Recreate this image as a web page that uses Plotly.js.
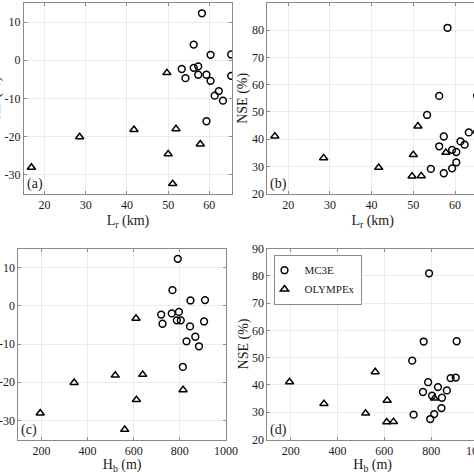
<!DOCTYPE html>
<html>
<head>
<meta charset="utf-8">
<script src="https://cdn.plot.ly/plotly-3.0.1.min.js"></script>
<style>
html,body{margin:0;padding:0;background:#fff;overflow:hidden;width:474px;height:474px;}
#chart{position:absolute;left:-16px;top:0;width:510px;height:474px;}
</style>
</head>
<body>
<div id="chart"></div>
<script>
// MC3E (circles)
const mc3eLr  = [58.2, 56.2, 60.3, 65.3, 65.3, 53.3, 54.2, 56.2, 57.3, 57.3, 59.3, 60.3, 62.3, 61.3, 63.3, 59.3];
const mc3eHb  = [791, 768, 846, 909, 905, 719, 725, 765, 796, 787, 804, 844, 867, 829, 883, 813];
const mc3eRB  = [12.3, 4.1, 1.4, 1.5, -4.1, -2.3, -4.7, -2.0, -1.6, -3.8, -3.8, -5.4, -8.1, -9.3, -10.6, -16.0];
const mc3eNSE = [80.9, 55.9, 35.3, 56.0, 42.7, 48.9, 29.1, 37.4, 27.5, 41.0, 36.1, 31.5, 38.0, 39.2, 42.5, 29.3];
// OLYMPEx (triangles)
const olyLr  = [16.8, 28.5, 41.7, 49.7, 50.0, 51.1, 51.9, 57.8];
const olyHb  = [195, 342, 520, 610, 612, 561, 639, 814];
const olyRB  = [-28.1, -20.1, -18.2, -3.3, -24.6, -32.4, -18.0, -22.0];
const olyNSE = [41.1, 33.1, 29.6, 26.4, 34.3, 44.8, 26.5, 35.1];

const seriesNames = ['MC3E', 'OLYMPEx'];
const panelLabels = ['(a)', '(b)', '(c)', '(d)'];
const xTitles = ['L<sub>r</sub> (km)', 'L<sub>r</sub> (km)', 'H<sub>b</sub> (m)', 'H<sub>b</sub> (m)'];
const yTitles = ['RB (%)', 'NSE (%)', 'RB (%)', 'NSE (%)'];
const lrTicks = [20, 30, 40, 50, 60];
const hbTicks = [200, 400, 600, 800, 1000];
const rbTicks = [-30, -20, -10, 0, 10];
const nseTicks = [20, 30, 40, 50, 60, 70, 80, 90];

const FONT = 'Liberation Serif, Times New Roman, serif';
const circ = {symbol: 'circle-open', size: 6.8, color: '#000', line: {width: 1.5, color: '#000'}};
const tri = {symbol: 'triangle-up-open', size: 7.2, color: '#000', line: {width: 1.5, color: '#000'}};

function pts(xc, yc, xt, yt, xa, ya, show) {
  return [
    {type: 'scatter', mode: 'markers', x: xc, y: yc, xaxis: xa, yaxis: ya, marker: circ, name: seriesNames[0], showlegend: show},
    {type: 'scatter', mode: 'markers', x: xt, y: yt, xaxis: xa, yaxis: ya, marker: tri, name: seriesNames[1], showlegend: show}
  ];
}

const data = [].concat(
  pts(mc3eLr, mc3eRB, olyLr, olyRB, 'x', 'y', false),
  pts(mc3eLr, mc3eNSE, olyLr, olyNSE, 'x2', 'y2', false),
  pts(mc3eHb, mc3eRB, olyHb, olyRB, 'x3', 'y3', false),
  pts(mc3eHb, mc3eNSE, olyHb, olyNSE, 'x4', 'y4', true)
);

function axis(domain, range, ticks, title, anchor, isY) {
  return {
    domain: domain, range: range, tickvals: ticks, ticktext: ticks.map(String),
    showline: true, linecolor: '#8a8a8a', linewidth: 1, mirror: 'ticks',
    ticks: 'inside', ticklen: 3, tickcolor: '#8a8a8a', tickwidth: 1,
    showgrid: true, gridcolor: '#ebebeb', gridwidth: 1, zeroline: false,
    tickfont: {family: FONT, size: 12, color: '#1a1a1a'},
    title: {text: title, font: {family: FONT, size: 14, color: '#1a1a1a'}, standoff: isY ? 0 : 4},
    anchor: anchor, automargin: false, fixedrange: true
  };
}

const W = 510, H = 474;
const xdA = [40 / W, 248 / W], xdB = [283.3 / W, 494 / W], xdC = [34.3 / W, 242 / W];
const ydTop = [1 - 193.7 / H, 1 - 3 / H], ydBot = [1 - 439.5 / H, 1 - 248.5 / H];

const layout = {
  width: W, height: H,
  margin: {l: 0, r: 0, t: 0, b: 0},
  paper_bgcolor: '#fff', plot_bgcolor: '#fff',
  font: {family: FONT, size: 12, color: '#1a1a1a'},
  xaxis: axis(xdA, [15, 65.5], lrTicks, xTitles[0], 'y', false),
  yaxis: axis(ydTop, [-35, 15], rbTicks, yTitles[0], 'x', true),
  xaxis2: axis(xdB, [15, 65.5], lrTicks, xTitles[1], 'y2', false),
  yaxis2: axis(ydTop, [20, 90], nseTicks, yTitles[1], 'x2', true),
  xaxis3: axis(xdC, [100, 1000], hbTicks, xTitles[2], 'y3', false),
  yaxis3: axis(ydBot, [-35, 15], rbTicks, yTitles[2], 'x3', true),
  xaxis4: axis(xdB, [100, 1000], hbTicks, xTitles[3], 'y4', false),
  yaxis4: axis(ydBot, [20, 90], nseTicks, yTitles[3], 'x4', true),
  showlegend: true,
  legend: {
    x: 289.5 / W, y: 1 - 254.7 / H, xanchor: 'left', yanchor: 'top',
    bgcolor: '#fff', bordercolor: '#8a8a8a', borderwidth: 1,
    font: {family: FONT, size: 11, color: '#1a1a1a'},
    itemwidth: 30, tracegroupgap: 0, indentation: -10
  },
  annotations: panelLabels.map((t, i) => ({
    text: t, showarrow: false,
    xref: (i === 0 ? 'x' : 'x' + (i + 1)) + ' domain',
    yref: (i === 0 ? 'y' : 'y' + (i + 1)) + ' domain',
    x: 0.005, y: 0.0, xanchor: 'left', yanchor: 'bottom',
    font: {family: FONT, size: 14, color: '#1a1a1a'}
  }))
};

Plotly.newPlot('chart', data, layout, {displayModeBar: false, staticPlot: true});
</script>
</body>
</html>
